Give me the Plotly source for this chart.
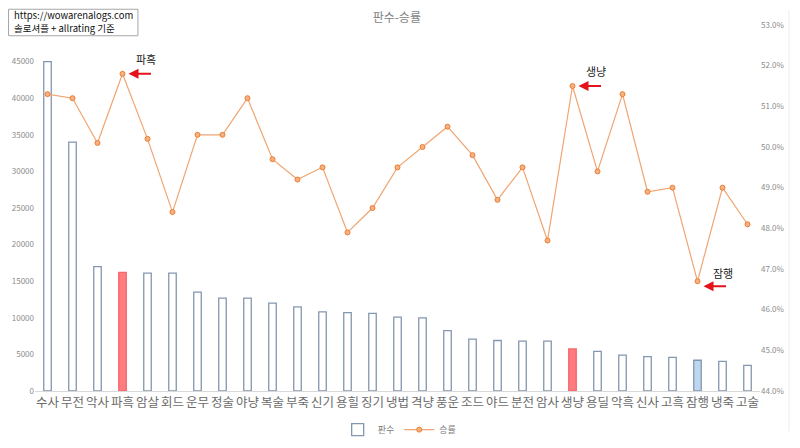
import plotly.graph_objects as go

# spec labels, games played, win rate (%)
specs = ['수사', '무전', '악사', '파흑', '암살', '회드', '운무', '정술', '야냥', '복술',
         '부죽', '신기', '용힐', '징기', '냉법', '격냥', '풍운', '조드', '야드', '분전',
         '암사', '생냥', '용딜', '악흑', '신사', '고흑', '잠행', '냉죽', '고술']
games = [45000, 34000, 17000, 16200, 16100, 16100, 13500, 12700, 12700, 12000,
         11500, 10800, 10700, 10600, 10100, 10000, 8250, 7100, 6900, 6800,
         6800, 5750, 5400, 4900, 4700, 4600, 4200, 4050, 3500]
winrate = [51.3, 51.2, 50.1, 51.8, 50.2, 48.4, 50.3, 50.3, 51.2, 49.7,
           49.2, 49.5, 47.9, 48.5, 49.5, 50.0, 50.5, 49.8, 48.7, 49.5,
           47.7, 51.5, 49.4, 51.3, 48.9, 49.0, 46.7, 49.0, 48.1]
red_specs = ['파흑', '생냥']
blue_specs = ['잠행']
left_ticks = [0, 5000, 10000, 15000, 20000, 25000, 30000, 35000, 40000, 45000]

font = "Noto Sans CJK KR"
edge = '#8497b0'

fills = []
lines = []
for s in specs:
    if s in red_specs:
        fills.append('#ff7c80')
        lines.append('#f4676b')
    elif s in blue_specs:
        fills.append('#bdd7ee')
        lines.append(edge)
    else:
        fills.append('white')
        lines.append(edge)

fig = go.Figure()
fig.add_trace(go.Bar(name='판수', x=specs, y=games, width=0.3,
                     marker=dict(color=fills, line=dict(color=lines, width=1.3))))
fig.add_trace(go.Scatter(name='승률', x=specs, y=winrate, yaxis='y2', mode='lines+markers',
                         line=dict(color='#f0a572', width=1.2),
                         marker=dict(size=5, color='#f4b183', line=dict(color='#ed7d31', width=1))))

# red arrows + labels: (spec, arrow shift y, label shift x, label shift y)
for s, ashift, lx, ly in [('파흑', 0, 23, 15), ('생냥', 0, 23, 15), ('잠행', -5, 25, 8)]:
    i = specs.index(s)
    y = winrate[i]
    fig.add_annotation(x=s, y=y, yref='y2', text='', showarrow=True, ax=30, ay=0, yshift=ashift,
                       arrowhead=2, arrowsize=1, arrowwidth=2, arrowcolor='#e3121b', standoff=6)
    fig.add_annotation(x=s, y=y, yref='y2', text=s, showarrow=False, xshift=lx, yshift=ly,
                       font=dict(family=font, size=11, color='#222'))

# source note box, top left
fig.add_shape(type='rect', xref='paper', yref='paper', x0=-0.0365, x1=0.142, y0=0.9706, y1=1.043,
              line=dict(color='#a6a6a6', width=1), fillcolor='white', layer='above')
fig.add_annotation(xref='paper', yref='paper', x=-0.0317, y=1.0262, xanchor='left', yanchor='middle',
                   text='https://wowarenalogs.com', showarrow=False,
                   font=dict(family=font, size=9.5, color='#111'))
fig.add_annotation(xref='paper', yref='paper', x=-0.0317, y=0.9918, xanchor='left', yanchor='middle',
                   text='솔로셔플 + allrating 기준', showarrow=False,
                   font=dict(family=font, size=9.5, color='#111'))

fig.update_layout(
    width=800, height=448,
    margin=dict(l=27, r=48, t=17, b=54),
    paper_bgcolor='white', plot_bgcolor='white',
    title=dict(text='판수-승률', x=0.486, y=0.978, xanchor='center', yanchor='middle',
               font=dict(family=font, size=12, color='#7f7f7f'), automargin=False),
    font=dict(family=font, color='#7f7f7f'),
    showlegend=True,
    legend=dict(orientation='h', x=0.503, xanchor='center', y=-0.1055, yanchor='middle',
                font=dict(family=font, size=9, color='#7f7f7f'), itemwidth=30),
    xaxis=dict(tickfont=dict(family=font, size=12.5, color='#6b6b6b'), tickangle=0,
               range=[-0.5, len(specs) - 0.5], autorange=False,
               showline=True, linecolor='#d9d9d9', ticks='', showgrid=False, automargin=False),
    yaxis=dict(range=[0, 50000], tickvals=left_ticks, ticktext=[str(v) for v in left_ticks],
               showgrid=False, zeroline=False, tickfont=dict(size=8, color='#8c8c8c'),
               automargin=False),
    yaxis2=dict(range=[44, 53], dtick=1, overlaying='y', side='right', showgrid=False,
                zeroline=False, tickformat='.1f', ticksuffix='%',
                tickfont=dict(size=8, color='#8c8c8c'), automargin=False),
    bargap=0.7,
)
fig.add_shape(type='line', xref='paper', yref='paper', x0=1.04, x1=1.04, y0=-0.11, y1=1.04,
              line=dict(color='#ececec', width=1))

fig.write_html("out.html")
